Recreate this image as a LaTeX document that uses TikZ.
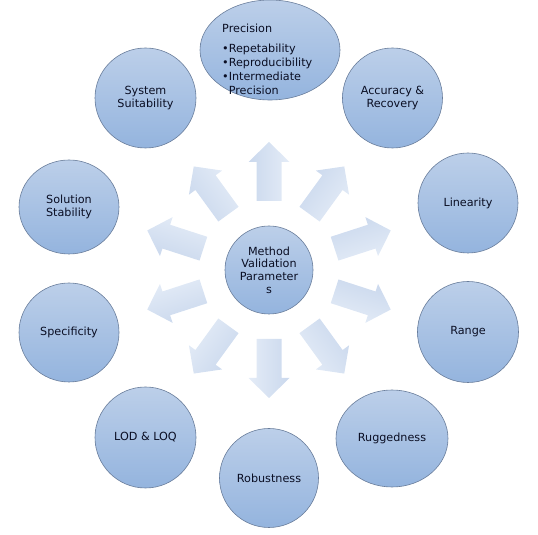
\documentclass[tikz,border=0pt]{standalone}
\usepackage{fontspec}
\setmainfont{DejaVu Sans}
\usetikzlibrary{shapes.geometric,calc}
\definecolor{circtop}{RGB}{188,207,233}
\definecolor{circbot}{RGB}{148,180,222}
\definecolor{circline}{RGB}{105,125,155}
\definecolor{txt}{RGB}{10,14,35}
\definecolor{arrbase}{RGB}{202,216,237}
\definecolor{arrtip}{RGB}{228,236,247}
\tikzset{
  bubble/.style={ellipse, draw=circline, line width=0.6pt, top color=circtop, bottom color=circbot,
    inner sep=0pt, align=center, text=txt, font=\fontsize{11.2}{13.3}\selectfont},
  blockarrow/.style={left color=arrbase, right color=arrtip}
}
\begin{document}
\begin{tikzpicture}[x=1pt,y=1pt]
\useasboundingbox (0,0) rectangle (538,535);
% arrows
\foreach \a in {90,54,18,-18,-54,-90,-126,-162,162,126}{
  \begin{scope}[shift={(269,265)}, rotate=\a]
    \shade[blockarrow, shading angle=\a] (69,-12.5) -- (108,-12.5) -- (108,-20.5) -- (128,0) -- (108,20.5) -- (108,12.5) -- (69,12.5) -- cycle;
  \end{scope}
}
\node[bubble, minimum width=88pt, minimum height=88pt, font=\fontsize{11.2}{12.7}\selectfont] (mvp) at (269,265) {Method\\Validation\\Parameter\\s};
\node[bubble, minimum width=140pt, minimum height=100pt] (prec) at (270,485) {};
\node[anchor=north west, inner sep=0pt, align=left, text=txt, font=\fontsize{11.2}{14.3}\selectfont] (prectext) at (222,511) {Precision\\[5pt]•Repetability\\•Reproducibility\\•Intermediate\\\hphantom{•}Precision};
\node[bubble, minimum width=101pt, minimum height=100pt] (sys) at (145.5,437) {System\\Suitability};
\node[bubble, minimum width=100pt, minimum height=100pt] (acc) at (392.5,437) {Accuracy \&\\Recovery};
\node[bubble, minimum width=100pt, minimum height=94pt] (sol) at (69,328) {Solution\\Stability};
\node[bubble, minimum width=100pt, minimum height=100pt] (lin) at (468,332) {Linearity};
\node[bubble, minimum width=100pt, minimum height=99pt] (spec) at (69,202.5) {Specificity};
\node[bubble, minimum width=101pt, minimum height=101pt] (rng) at (468,203) {Range};
\node[bubble, minimum width=101pt, minimum height=101pt] (lod) at (145.5,97.5) {LOD \& LOQ};
\node[bubble, minimum width=112pt, minimum height=97pt] (rug) at (392,96.5) {Ruggedness};
\node[bubble, minimum width=99pt, minimum height=99pt] (rob) at (269,57) {Robustness};
\end{tikzpicture}
\end{document}
